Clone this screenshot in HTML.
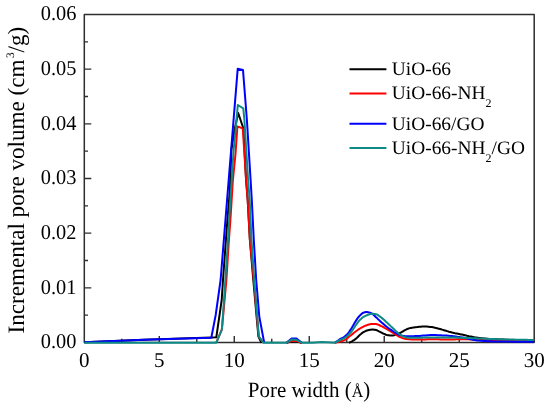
<!DOCTYPE html>
<html><head><meta charset="utf-8"><style>
html,body{margin:0;padding:0;background:#fff;}
svg{display:block;}
text{font-family:"Liberation Serif","Times New Roman",serif;fill:#000;text-rendering:geometricPrecision;}
</style></head><body>
<svg width="550" height="406" viewBox="0 0 550 406">
<rect width="550" height="406" fill="#fff"/>
<g fill="none" stroke-linejoin="round" stroke-linecap="butt">
<path d="M159.28 342.5V336.0 M234.27 342.5V336.0 M309.25 342.5V336.0 M384.23 342.5V336.0 M459.22 342.5V336.0 M121.79 342.5V338.8 M196.78 342.5V338.8 M271.76 342.5V338.8 M346.74 342.5V338.8 M421.73 342.5V338.8 M496.71 342.5V338.8 M84.3 287.83H91.3 M84.3 233.17H91.3 M84.3 178.50H91.3 M84.3 123.83H91.3 M84.3 69.17H91.3 M84.3 315.17H88.0 M84.3 260.50H88.0 M84.3 205.83H88.0 M84.3 151.17H88.0 M84.3 96.50H88.0 M84.3 41.83H88.0" stroke="#2e2e2e" stroke-width="1.4"/>
<rect x="84.3" y="14.5" width="449.9" height="328.0" stroke="#2e2e2e" stroke-width="1.5"/>
<path d="M84.3 342.2L144.0 339.8L211.3 337.5L216.3 337.3L221.7 300.0L223.0 280.0L225.9 240.0L227.4 220.0L229.9 190.0L231.4 150.0L234.5 130.0L238.2 113.0L243.4 128.5L246.1 180.0L247.7 200.0L249.9 240.0L253.3 280.0L258.4 336.5L261.5 342.7M286.4 342.7L291.2 341.6L296.7 341.6L301.8 342.7M349.0 342.7L350.0 342.3L351.0 341.8L352.0 341.3L353.0 340.7L354.0 340.1L355.0 339.4L356.0 338.6L357.0 337.7L358.0 336.7L359.0 335.7L360.0 334.8L361.0 334.0L362.0 333.1L363.0 332.4L364.0 331.8L365.0 331.3L366.0 330.8L367.0 330.5L368.0 330.2L369.0 330.0L370.0 329.8L371.0 329.7L372.0 329.6L373.0 329.6L374.0 329.7L375.0 329.8L376.0 330.0L377.0 330.3L378.0 330.8L379.0 331.4L380.0 331.9L381.0 332.4L382.0 332.9L383.0 333.5L384.0 333.9L385.0 334.3L386.0 334.7L387.0 335.0L388.0 335.2L389.0 335.3L390.0 335.4L391.0 335.5L392.0 335.5L393.0 335.4L394.0 335.2L395.0 334.9L396.0 334.6L397.0 334.3L398.0 333.9L399.0 333.5L400.0 333.0L401.0 332.5L402.0 331.9L403.0 331.3L404.0 330.7L405.0 330.1L406.0 329.6L407.0 329.1L408.0 328.7L409.0 328.4L410.0 328.1L411.0 327.9L412.0 327.7L413.0 327.6L414.0 327.4L415.0 327.3L416.0 327.2L417.0 327.1L418.0 326.9L419.0 326.8L420.0 326.7L421.0 326.7L422.0 326.6L423.0 326.6L424.0 326.6L425.0 326.6L426.0 326.6L427.0 326.6L428.0 326.7L429.0 326.8L430.0 326.9L431.0 327.0L432.0 327.1L433.0 327.2L434.0 327.4L435.0 327.7L436.0 327.9L437.0 328.2L438.0 328.5L439.0 328.7L440.0 329.0L441.0 329.3L442.0 329.6L443.0 329.9L444.0 330.2L445.0 330.5L446.0 330.8L447.0 331.1L448.0 331.4L449.0 331.7L450.0 331.9L451.0 332.2L452.0 332.5L453.0 332.7L454.0 332.9L455.0 333.2L456.0 333.4L457.0 333.6L458.0 333.8L459.0 334.0L460.0 334.2L461.0 334.4L462.0 334.6L463.0 334.8L464.0 335.0L465.0 335.2L466.0 335.4L467.0 335.7L468.0 335.9L469.0 336.2L470.0 336.4L471.0 336.6L472.0 336.8L473.0 337.0L474.0 337.2L475.0 337.4L476.0 337.5L477.0 337.7L478.0 337.8L479.0 338.0L480.0 338.1L481.0 338.2L482.0 338.3L483.0 338.4L484.0 338.5L485.0 338.6L486.0 338.7L487.0 338.8L488.0 338.8L489.0 338.9L490.0 339.0L491.0 339.0L492.0 339.1L493.0 339.2L494.0 339.2L495.0 339.2L496.0 339.3L497.0 339.3L498.0 339.4L499.0 339.4L500.0 339.5L501.0 339.5L502.0 339.6L503.0 339.6L504.0 339.6L505.0 339.7L506.0 339.7L507.0 339.8L508.0 339.8L509.0 339.9L510.0 339.9L511.0 339.9L512.0 340.0L513.0 340.0L514.0 340.0L515.0 340.1L516.0 340.1L517.0 340.1L518.0 340.2L519.0 340.2L520.0 340.2L521.0 340.2L522.0 340.3L523.0 340.3L524.0 340.3L525.0 340.3L526.0 340.3L527.0 340.3L528.0 340.4L529.0 340.4L530.0 340.4L531.0 340.4L532.0 340.4L533.0 340.4L534.0 340.4L534.2 340.4" stroke="#000" stroke-width="2"/>
<path d="M84.3 342.7M216.3 342.7L221.9 329.4L226.4 280.0L228.9 240.0L230.4 220.0L232.9 180.0L235.4 155.0L237.4 126.5L242.8 128.4L246.1 180.0L247.7 200.0L249.9 240.0L253.8 280.0L258.8 336.5L263.3 342.7M286.4 342.7L291.2 341.0L296.7 341.0L301.8 342.7M335.0 342.7L336.0 342.5L337.0 342.3L338.0 342.1L339.0 341.8L340.0 341.6L341.0 341.3L342.0 341.1L343.0 340.8L344.0 340.4L345.0 339.9L346.0 339.2L347.0 338.4L348.0 337.6L349.0 336.8L350.0 336.0L351.0 335.2L352.0 334.4L353.0 333.6L354.0 332.8L355.0 332.0L356.0 331.2L357.0 330.5L358.0 329.8L359.0 329.1L360.0 328.5L361.0 327.9L362.0 327.3L363.0 326.8L364.0 326.3L365.0 325.9L366.0 325.5L367.0 325.1L368.0 324.8L369.0 324.5L370.0 324.2L371.0 324.0L372.0 323.9L373.0 323.9L374.0 323.9L375.0 324.0L376.0 324.0L377.0 324.2L378.0 324.6L379.0 325.0L380.0 325.5L381.0 326.0L382.0 326.4L383.0 327.0L384.0 327.5L385.0 328.1L386.0 328.6L387.0 329.2L388.0 329.8L389.0 330.4L390.0 331.0L391.0 331.6L392.0 332.2L393.0 332.8L394.0 333.5L395.0 334.2L396.0 334.8L397.0 335.4L398.0 336.0L399.0 336.5L400.0 337.0L401.0 337.4L402.0 337.9L403.0 338.2L404.0 338.5L405.0 338.7L406.0 338.9L407.0 339.1L408.0 339.2L409.0 339.3L410.0 339.3L411.0 339.4L412.0 339.4L413.0 339.5L414.0 339.5L415.0 339.5L416.0 339.5L417.0 339.5L418.0 339.5L419.0 339.5L420.0 339.5L421.0 339.5L422.0 339.4L423.0 339.4L424.0 339.4L425.0 339.4L426.0 339.4L427.0 339.3L428.0 339.3L429.0 339.3L430.0 339.3L431.0 339.3L432.0 339.3L433.0 339.3L434.0 339.3L435.0 339.3L436.0 339.3L437.0 339.3L438.0 339.3L439.0 339.3L440.0 339.4L441.0 339.4L442.0 339.4L443.0 339.4L444.0 339.4L445.0 339.4L446.0 339.4L447.0 339.4L448.0 339.4L449.0 339.4L450.0 339.4L451.0 339.4L452.0 339.4L453.0 339.4L454.0 339.4L455.0 339.4L456.0 339.3L457.0 339.3L458.0 339.3L459.0 339.3L460.0 339.3L461.0 339.3L462.0 339.3L463.0 339.3L464.0 339.3L465.0 339.3L466.0 339.3L467.0 339.3L468.0 339.3L469.0 339.3L470.0 339.4L471.0 339.4L472.0 339.4L473.0 339.4L474.0 339.4L475.0 339.5L476.0 339.5L477.0 339.5L478.0 339.5L479.0 339.6L480.0 339.6L481.0 339.6L482.0 339.7L483.0 339.7L484.0 339.8L485.0 339.8L486.0 339.9L487.0 339.9L488.0 340.0L489.0 340.1L490.0 340.1L491.0 340.2L492.0 340.2L493.0 340.3L494.0 340.3L495.0 340.3L496.0 340.4L497.0 340.4L498.0 340.4L499.0 340.4L500.0 340.5L501.0 340.5L502.0 340.5L503.0 340.5L504.0 340.6L505.0 340.6L506.0 340.6L507.0 340.6L508.0 340.7L509.0 340.7L510.0 340.7L511.0 340.7L512.0 340.7L513.0 340.8L514.0 340.8L515.0 340.8L516.0 340.8L517.0 340.8L518.0 340.9L519.0 340.9L520.0 340.9L521.0 340.9L522.0 340.9L523.0 340.9L524.0 340.9L525.0 341.0L526.0 341.0L527.0 341.0L528.0 341.0L529.0 341.0L530.0 341.0L531.0 341.0L532.0 341.0L533.0 341.0L534.0 341.0L534.2 341.0" stroke="#ff0000" stroke-width="2"/>
<path d="M84.3 342.2L144.0 339.8L211.3 337.7L215.7 315.0L220.6 280.0L237.7 68.8L243.0 70.0L246.9 120.0L250.6 180.0L251.8 200.0L253.8 240.0L256.2 280.0L259.3 316.6L264.2 342.7M286.4 342.7L291.6 338.5L296.5 338.5L301.8 342.7M335.0 342.7L336.0 341.9L337.0 341.2L338.0 340.5L339.0 339.8L340.0 339.2L341.0 338.6L342.0 338.1L343.0 337.6L344.0 337.0L345.0 336.2L346.0 335.4L347.0 334.4L348.0 333.3L349.0 332.1L350.0 330.6L351.0 329.1L352.0 327.5L353.0 325.8L354.0 324.0L355.0 322.2L356.0 320.6L357.0 319.1L358.0 317.7L359.0 316.5L360.0 315.4L361.0 314.5L362.0 313.6L363.0 312.9L364.0 312.5L365.0 312.2L366.0 312.0L367.0 312.0L368.0 312.2L369.0 312.4L370.0 312.7L371.0 313.1L372.0 313.6L373.0 314.3L374.0 315.2L375.0 316.2L376.0 317.2L377.0 318.1L378.0 319.1L379.0 320.1L380.0 321.0L381.0 321.9L382.0 322.8L383.0 323.6L384.0 324.5L385.0 325.4L386.0 326.2L387.0 327.0L388.0 327.8L389.0 328.5L390.0 329.2L391.0 329.9L392.0 330.6L393.0 331.3L394.0 332.0L395.0 332.6L396.0 333.2L397.0 333.7L398.0 334.3L399.0 334.7L400.0 335.1L401.0 335.4L402.0 335.7L403.0 336.0L404.0 336.1L405.0 336.2L406.0 336.2L407.0 336.3L408.0 336.3L409.0 336.3L410.0 336.3L411.0 336.3L412.0 336.2L413.0 336.2L414.0 336.2L415.0 336.1L416.0 336.1L417.0 336.1L418.0 336.0L419.0 335.9L420.0 335.9L421.0 335.8L422.0 335.7L423.0 335.6L424.0 335.5L425.0 335.4L426.0 335.4L427.0 335.3L428.0 335.2L429.0 335.2L430.0 335.1L431.0 335.1L432.0 335.1L433.0 335.1L434.0 335.1L435.0 335.1L436.0 335.1L437.0 335.2L438.0 335.2L439.0 335.2L440.0 335.3L441.0 335.3L442.0 335.4L443.0 335.4L444.0 335.5L445.0 335.5L446.0 335.6L447.0 335.6L448.0 335.7L449.0 335.8L450.0 335.9L451.0 336.0L452.0 336.1L453.0 336.2L454.0 336.3L455.0 336.5L456.0 336.6L457.0 336.7L458.0 336.9L459.0 337.0L460.0 337.2L461.0 337.3L462.0 337.5L463.0 337.6L464.0 337.8L465.0 338.0L466.0 338.2L467.0 338.4L468.0 338.7L469.0 338.9L470.0 339.1L471.0 339.3L472.0 339.5L473.0 339.7L474.0 339.9L475.0 340.0L476.0 340.2L477.0 340.4L478.0 340.5L479.0 340.6L480.0 340.7L481.0 340.8L482.0 340.8L483.0 340.9L484.0 341.0L485.0 341.0L486.0 341.1L487.0 341.2L488.0 341.2L489.0 341.2L490.0 341.3L491.0 341.3L492.0 341.4L493.0 341.4L494.0 341.4L495.0 341.4L496.0 341.4L497.0 341.5L498.0 341.5L499.0 341.5L500.0 341.5L501.0 341.5L502.0 341.5L503.0 341.6L504.0 341.6L505.0 341.6L506.0 341.6L507.0 341.6L508.0 341.6L509.0 341.6L510.0 341.6L511.0 341.7L512.0 341.7L513.0 341.7L514.0 341.7L515.0 341.7L516.0 341.7L517.0 341.7L518.0 341.7L519.0 341.7L520.0 341.7L521.0 341.8L522.0 341.8L523.0 341.8L524.0 341.8L525.0 341.8L526.0 341.8L527.0 341.8L528.0 341.8L529.0 341.8L530.0 341.8L531.0 341.8L532.0 341.8L533.0 341.8L534.0 341.8L534.2 341.8" stroke="#0000ff" stroke-width="2"/>
<path d="M84.3 342.7L216.3 342.7L221.9 329.4L224.0 300.0L226.0 270.0L228.0 240.0L230.0 205.0L232.0 175.0L233.6 150.0L235.6 130.0L237.8 105.0L243.3 108.4L244.4 120.0L248.1 180.0L249.7 200.0L251.5 240.0L254.3 280.0L258.8 336.5L263.3 342.7L286.4 342.7L291.6 339.6L296.5 339.8L301.8 342.7L312.0 342.7L322.0 341.9L331.0 342.4L335.0 342.7L336.0 342.1L337.0 341.5L338.0 341.0L339.0 340.5L340.0 340.0L341.0 339.6L342.0 339.2L343.0 338.8L344.0 338.3L345.0 337.7L346.0 337.0L347.0 336.2L348.0 335.3L349.0 334.3L350.0 333.2L351.0 332.0L352.0 330.8L353.0 329.4L354.0 328.0L355.0 326.4L356.0 325.0L357.0 323.6L358.0 322.2L359.0 320.9L360.0 319.8L361.0 318.9L362.0 318.0L363.0 317.2L364.0 316.6L365.0 316.1L366.0 315.6L367.0 315.2L368.0 314.8L369.0 314.5L370.0 314.1L371.0 313.9L372.0 313.8L373.0 313.8L374.0 313.9L375.0 314.0L376.0 314.2L377.0 314.5L378.0 315.1L379.0 315.9L380.0 316.6L381.0 317.3L382.0 318.1L383.0 318.9L384.0 319.8L385.0 320.7L386.0 321.7L387.0 322.6L388.0 323.6L389.0 324.5L390.0 325.4L391.0 326.4L392.0 327.3L393.0 328.3L394.0 329.3L395.0 330.3L396.0 331.2L397.0 332.1L398.0 333.0L399.0 333.8L400.0 334.5L401.0 335.2L402.0 335.8L403.0 336.4L404.0 336.8L405.0 337.1L406.0 337.4L407.0 337.6L408.0 337.7L409.0 337.7L410.0 337.7L411.0 337.8L412.0 337.8L413.0 337.8L414.0 337.8L415.0 337.8L416.0 337.8L417.0 337.8L418.0 337.8L419.0 337.8L420.0 337.7L421.0 337.7L422.0 337.7L423.0 337.6L424.0 337.6L425.0 337.6L426.0 337.5L427.0 337.5L428.0 337.5L429.0 337.4L430.0 337.4L431.0 337.4L432.0 337.4L433.0 337.4L434.0 337.4L435.0 337.4L436.0 337.4L437.0 337.4L438.0 337.4L439.0 337.4L440.0 337.4L441.0 337.4L442.0 337.4L443.0 337.4L444.0 337.4L445.0 337.4L446.0 337.4L447.0 337.4L448.0 337.4L449.0 337.4L450.0 337.4L451.0 337.4L452.0 337.5L453.0 337.5L454.0 337.5L455.0 337.5L456.0 337.6L457.0 337.6L458.0 337.7L459.0 337.7L460.0 337.7L461.0 337.8L462.0 337.8L463.0 337.9L464.0 337.9L465.0 337.9L466.0 338.0L467.0 338.0L468.0 338.0L469.0 338.1L470.0 338.1L471.0 338.2L472.0 338.2L473.0 338.2L474.0 338.3L475.0 338.3L476.0 338.3L477.0 338.4L478.0 338.4L479.0 338.5L480.0 338.5L481.0 338.5L482.0 338.6L483.0 338.6L484.0 338.7L485.0 338.7L486.0 338.8L487.0 338.8L488.0 338.9L489.0 338.9L490.0 339.0L491.0 339.0L492.0 339.0L493.0 339.1L494.0 339.1L495.0 339.1L496.0 339.2L497.0 339.2L498.0 339.2L499.0 339.2L500.0 339.3L501.0 339.3L502.0 339.3L503.0 339.4L504.0 339.4L505.0 339.4L506.0 339.4L507.0 339.5L508.0 339.5L509.0 339.5L510.0 339.5L511.0 339.6L512.0 339.6L513.0 339.6L514.0 339.6L515.0 339.7L516.0 339.7L517.0 339.7L518.0 339.7L519.0 339.7L520.0 339.7L521.0 339.8L522.0 339.8L523.0 339.8L524.0 339.8L525.0 339.8L526.0 339.8L527.0 339.8L528.0 339.9L529.0 339.9L530.0 339.9L531.0 339.9L532.0 339.9L533.0 339.9L534.0 339.9L534.2 339.9" stroke="#0e8a86" stroke-width="2"/>
</g>
<g font-size="21.0">
<text x="0" y="0" text-anchor="end" transform="translate(76.4 348.40) scale(0.97 1.0)">0.00</text>
<text x="0" y="0" text-anchor="end" transform="translate(76.4 293.73) scale(0.97 1.0)">0.01</text>
<text x="0" y="0" text-anchor="end" transform="translate(76.4 239.07) scale(0.97 1.0)">0.02</text>
<text x="0" y="0" text-anchor="end" transform="translate(76.4 184.40) scale(0.97 1.0)">0.03</text>
<text x="0" y="0" text-anchor="end" transform="translate(76.4 129.73) scale(0.97 1.0)">0.04</text>
<text x="0" y="0" text-anchor="end" transform="translate(76.4 75.07) scale(0.97 1.0)">0.05</text>
<text x="0" y="0" text-anchor="end" transform="translate(76.4 20.40) scale(0.97 1.0)">0.06</text>
<text x="0" y="0" text-anchor="middle" transform="translate(84.30 366.9)">0</text>
<text x="0" y="0" text-anchor="middle" transform="translate(159.28 366.9)">5</text>
<text x="0" y="0" text-anchor="middle" transform="translate(234.27 366.9)">10</text>
<text x="0" y="0" text-anchor="middle" transform="translate(309.25 366.9)">15</text>
<text x="0" y="0" text-anchor="middle" transform="translate(384.23 366.9)">20</text>
<text x="0" y="0" text-anchor="middle" transform="translate(459.22 366.9)">25</text>
<text x="0" y="0" text-anchor="middle" transform="translate(534.20 366.9)">30</text>
<text x="0" y="0" font-size="21" transform="translate(247.8 396.8) scale(1 1.04)">Pore width (<tspan font-size="16">Å</tspan>)</text>
<text x="0" y="0" text-anchor="middle" font-size="23.5" transform="translate(24.3 180.1) rotate(-90) scale(0.983 1)">Incremental pore volume (cm<tspan font-size="11.5" dx="1.6" dy="-10.3">3</tspan><tspan dy="10.3">/g)</tspan></text>
</g>
<path d="M349.5 69.2H386.4" stroke="#000000" stroke-width="2"/>
<text x="0" y="0" font-size="19.4" transform="translate(391.8 74.6) scale(1 0.98)">UiO-66</text>
<path d="M349.5 93.4H386.4" stroke="#ff0000" stroke-width="2"/>
<text x="0" y="0" font-size="19.4" transform="translate(391.8 98.6) scale(1 0.98)">UiO-66-NH<tspan font-size="12" dy="8.5">2</tspan></text>
<path d="M349.5 123.8H386.4" stroke="#0000ff" stroke-width="2"/>
<text x="0" y="0" font-size="19.4" transform="translate(391.8 129.5) scale(1 0.98)">UiO-66/GO</text>
<path d="M349.5 148.1H386.4" stroke="#0e8a86" stroke-width="2"/>
<text x="0" y="0" font-size="19.4" transform="translate(391.8 153.7) scale(1 0.98)">UiO-66-NH<tspan font-size="12" dy="8.5">2</tspan><tspan dy="-8.5">/GO</tspan></text>
</svg>
</body></html>
